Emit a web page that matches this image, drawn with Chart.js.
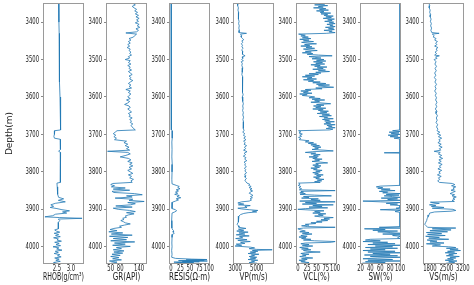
<!DOCTYPE html>
<html><head><meta charset="utf-8">
<script src="https://cdn.jsdelivr.net/npm/chart.js@4"></script>
<style>
html,body{margin:0;padding:0;background:#fff;width:474px;height:285px;overflow:hidden;position:relative}
canvas{position:absolute;top:0}
</style></head><body>
<script>
// ---------- data (depth in m) ----------
const depthTicks = [3400,3500,3600,3700,3800,3900,4000];

const rhobDepth = [3350,3370,3400,3430,3460,3500,3530,3560,3600,3630,
3660,3688,3690,3695,3700,3705,3710,3713,3725,3740,
3745,3748,3770,3800,3828,3830,3840,3850,3860,3868,
3872,3876,3880,3884,3888,3892,3895,3898,3901,3904,
3907,3910,3913,3917,3920,3922,3924,3926,3930,3935,
3945,3952,3955,3958,3961,3964,3967,3970,3973,3976,
3979,3982,3985,3988,3991,3994,3997,4000,4003,4006,
4009,4012,4015,4018,4021,4024,4027,4030,4033,4036,
4039,4042,4046];
const rhobValue = [2.56,2.57,2.57,2.58,2.58,2.59,2.59,2.60,2.61,2.62,
2.63,2.64,2.42,2.40,2.42,2.39,2.41,2.62,2.63,2.62,
2.56,2.63,2.63,2.62,2.62,2.50,2.51,2.53,2.52,2.56,
2.74,2.55,2.80,2.44,2.28,2.38,2.26,2.50,2.68,2.95,
2.70,2.85,2.45,2.35,2.07,2.60,3.40,2.55,2.60,2.55,
2.56,2.54,2.42,2.48,2.60,2.40,2.56,2.45,2.62,2.38,
2.55,2.50,2.66,2.42,2.58,2.47,2.63,2.36,2.57,2.49,
2.68,2.44,2.55,2.40,2.60,2.52,2.65,2.42,2.58,2.46,
2.62,2.38,2.55];

const grDepth = [3350,3354,3358,3362,3366,3370,3374,3378,3382,3386,
3390,3394,3398,3402,3406,3410,3414,3418,3422,3426,
3429,3432,3436,3440,3444,3448,3452,3456,3460,3464,
3468,3472,3476,3480,3484,3488,3492,3496,3500,3503,
3508,3512,3516,3520,3524,3528,3532,3536,3540,3544,
3548,3552,3556,3560,3564,3568,3572,3576,3580,3584,
3588,3592,3596,3600,3604,3608,3612,3616,3620,3624,
3628,3632,3636,3640,3644,3648,3652,3656,3660,3664,
3668,3672,3676,3680,3684,3688,3690,3694,3698,3702,
3706,3710,3714,3718,3722,3726,3730,3734,3738,3742,
3745,3748,3752,3756,3760,3764,3768,3772,3776,3780,
3784,3788,3792,3796,3800,3804,3808,3812,3816,3820,
3824,3828,3831,3834,3837,3840,3843,3846,3849,3852,
3855,3858,3861,3864,3867,3870,3873,3876,3879,3882,
3885,3888,3891,3894,3897,3900,3903,3906,3909,3912,
3915,3918,3921,3924,3927,3930,3933,3936,3939,3942,
3945,3948,3951,3954,3957,3960,3963,3966,3969,3972,
3975,3978,3981,3984,3987,3990,3993,3996,3999,4002,
4005,4008,4011,4014,4017,4020,4023,4026,4029,4032,
4035,4038,4041,4044,4046];
const grValue = [120,128,118,124,132,126,135,128,138,130,
140,132,138,128,140,134,142,130,138,132,
98,132,126,122,108,114,106,112,104,110,
102,112,108,114,110,116,106,110,96,112,
106,114,104,112,108,116,106,112,118,108,
114,110,120,112,106,114,108,116,98,112,
106,114,108,104,112,100,110,104,94,108,
112,104,110,116,106,112,108,118,110,116,
112,120,114,118,122,128,70,64,58,66,
60,68,62,100,92,104,96,108,100,110,
40,104,112,98,80,106,114,104,118,110,
120,108,116,104,112,120,106,116,110,122,
114,118,56,50,62,52,96,58,110,54,
60,125,150,100,118,64,120,108,156,104,
128,112,66,118,58,74,110,128,100,124,
106,96,100,88,92,82,90,96,112,94,
78,84,60,48,70,44,88,52,118,46,
104,58,100,50,126,62,96,56,112,68,
84,58,92,60,88,54,80,50,76,56,
84,46,70,52,62];

const resDepth = [3350,3400,3450,3500,3550,3600,3650,3688,3690,3700,
3710,3720,3740,3760,3780,3800,3820,3832,3836,3839,
3842,3845,3848,3851,3854,3857,3860,3863,3866,3869,
3872,3875,3878,3881,3890,3898,3901,3904,3907,3910,
3930,3950,3955,3958,3961,3964,3967,3975,3990,4000,
4010,4020,4028,4031,4033,4034,4035,4036,4037,4038,
4039,4040,4041,4042,4043,4044,4045,4046];
const resValue = [0.5,0.8,1.0,1.0,1.2,1.2,1.5,1.5,3.5,3.0,
4.0,2.5,3.0,2.5,3.5,3.0,2.5,3.0,14,22,
18,24,14,20,12,18,10,22,16,26,
14,20,12,4,3,3,12,15,10,3,
2,2.5,5,8,6,9,4,3,2.5,3,
2,3,2,12,55,95,40,88,20,96,
30,75,8,60,15,40,5,3];

const vpDepth = [3350,3356,3362,3368,3374,3380,3386,3392,3398,3404,
3410,3416,3422,3428,3430,3432,3436,3440,3444,3447,
3450,3454,3458,3462,3466,3470,3474,3478,3482,3486,
3490,3493,3497,3500,3503,3506,3510,3516,3522,3528,
3534,3540,3546,3552,3558,3564,3570,3576,3582,3588,
3594,3600,3606,3612,3618,3624,3630,3636,3642,3648,
3654,3660,3666,3672,3678,3684,3690,3694,3698,3702,
3706,3710,3714,3718,3722,3726,3730,3734,3738,3742,
3746,3750,3754,3758,3762,3766,3770,3774,3778,3782,
3786,3790,3794,3798,3802,3806,3810,3814,3818,3822,
3826,3830,3833,3836,3839,3842,3845,3848,3851,3854,
3857,3860,3863,3866,3869,3872,3875,3878,3880,3883,
3886,3888,3890,3892,3895,3897,3899,3901,3903,3905,
3907,3909,3911,3914,3918,3922,3928,3934,3940,3944,
3948,3951,3953,3956,3958,3961,3963,3966,3968,3971,
3973,3976,3978,3981,3983,3986,3988,3991,3993,3996,
3998,4001,4003,4005,4007,4008,4010,4012,4014,4016,
4018,4020,4022,4024,4026,4028,4030,4032,4034,4036,
4038,4040,4042,4044,4046];
const vpValue = [3250,3230,3300,3260,3320,3280,3340,3300,3360,3320,
3380,3340,3390,3360,4050,3500,3600,3560,3680,3800,
3620,3700,3580,3680,3620,3740,3600,3700,3640,3720,
3920,3640,3700,3600,3760,3560,3660,3620,3700,3640,
3680,3620,3700,3650,3720,3660,3700,3640,3720,3680,
3740,3660,3720,3680,3760,3700,3740,3690,3760,3710,
3780,3720,3770,3730,3800,3750,3820,3700,3900,3760,
3960,3800,4000,3780,3940,3820,4060,3860,3980,3780,
4100,3840,3960,3760,4000,3880,4080,3820,3960,3880,
4040,3860,3980,3900,4060,3880,3980,3920,4040,3900,
3980,4100,4350,4250,4480,4300,4560,4380,4620,4400,
4300,4500,4650,4420,4600,4380,4520,4300,3600,3250,
3800,3300,4400,3900,4100,3250,3600,4300,5100,4600,
5000,4200,3800,3500,3350,3300,3280,3320,3180,3300,
3350,4000,3300,3800,3150,4200,3350,3900,3100,4300,
3400,3700,3050,4100,3250,4400,3500,3900,3100,3600,
3000,4400,4800,4300,5000,6430,4600,5100,4400,4900,
4200,5200,4500,4800,4300,5000,4400,4900,4200,5100,
4500,4800,4300,5000,4600];

const vclDepth = [3350,3352,3354,3356,3358,3360,3362,3364,3366,3368,
3370,3372,3374,3376,3378,3380,3382,3384,3386,3388,
3390,3392,3394,3396,3398,3400,3402,3404,3406,3408,
3410,3412,3414,3416,3418,3420,3422,3424,3426,3428,
3430,3432,3435,3437,
3440,3442,3444,3446,3448,3450,3452,3454,3456,3458,
3460,3462,3464,3466,3468,3470,3472,3474,3476,3478,
3480,3482,3484,3486,3488,3490,3492,3494,3496,3498,
3500,3502,3504,3506,3508,3510,3512,3514,3516,3518,
3520,3522,3524,3526,3528,3530,3532,3534,3536,3538,
3540,3542,3544,3546,3548,3550,3552,3554,3556,3558,
3560,3562,3564,3566,3568,3570,3572,3574,3576,3578,
3580,3582,3584,3586,3588,3590,3592,3594,3596,3598,
3600,3602,3604,3606,3608,3610,3612,3614,3616,3618,
3620,3622,3624,3626,3628,3630,3632,3634,3636,3638,
3640,3642,3644,3646,3648,3650,3652,3654,3656,3658,
3660,3662,3664,3666,3668,3670,3672,3674,3676,3678,
3680,3682,3684,3686,3688,
3690,3693,3696,3699,3702,3705,3708,3711,3714,3717,
3720,3722,3724,3726,3728,3730,3732,3734,3736,3738,
3740,3742,3744,3746,3748,3750,3752,3754,3756,3758,
3760,3762,3764,3766,3768,3770,3772,3774,3776,3778,
3780,3782,3784,3786,3788,3790,3792,3794,3796,3798,
3800,3802,3804,3806,3808,3810,3812,3814,3816,3818,
3820,3822,3824,3826,3828,
3830,3833,3836,3839,3842,3845,3848,
3850,3852,3854,3856,3858,3860,3862,3864,3866,3868,
3870,3872,3874,3876,3878,3880,3882,3884,3886,3888,
3890,3892,3894,3896,3898,3900,3902,3904,3906,3908,
3910,3912,3914,3916,3918,3920,3922,3924,3926,3928,
3930,3932,3934,3936,3938,3940,3942,3944,3946,3948,
3950,3952,3955,3958,
3960,3962,3964,3966,3968,3970,3972,3974,3976,3978,
3980,3982,3984,3986,3988,3990,3992,3994,3996,3998,
4000,4002,4004,4006,4008,4010,4012,4014,4016,4018,
4020,4022,4024,4026,4028,4030,4032,4034,4036,4038,
4040,4042,4044,4046];
const vclValue = [50,72,45,80,55,68,42,75,58,82,
50,70,60,88,62,80,70,95,75,90,
68,98,80,92,72,96,84,100,78,94,
86,100,74,96,82,98,70,92,84,100,
76,2,20,8,
28,12,35,5,30,15,42,10,25,50,
18,32,8,38,22,45,15,30,52,20,
36,12,40,25,55,92,30,45,62,38,
70,50,75,42,66,48,72,35,60,45,
78,52,68,40,74,55,85,48,62,30,
55,20,45,12,38,25,50,15,42,28,
60,40,75,50,85,55,70,96,48,65,
20,35,8,28,15,38,5,25,12,32,
45,30,60,38,72,45,58,35,65,88,
50,70,42,62,48,75,40,68,55,82,
60,78,52,85,65,90,58,80,70,95,
66,85,72,98,75,88,70,100,78,92,
82,100,76,94,85,
2,8,3,12,5,10,2,8,4,30,
20,42,28,50,35,58,40,62,45,55,
38,70,95,40,20,48,35,60,42,55,
30,52,40,65,45,58,38,62,80,48,
55,40,62,45,58,35,52,42,65,48,
60,40,55,45,68,50,62,42,58,48,
70,52,64,45,60,
2,6,1,8,3,10,4,
100,8,15,5,20,6,45,90,15,30,
10,55,35,60,5,100,20,50,12,95,
40,65,30,80,20,0,35,70,45,60,
40,75,55,68,45,60,95,70,85,62,
80,50,65,35,48,20,30,10,25,100,
15,0,8,20,
5,30,12,38,18,8,25,3,22,10,
35,15,45,100,90,20,8,30,12,40,
18,5,28,10,35,15,25,60,20,8,
30,12,22,5,18,40,10,25,3,20,
8,30,12,20];

const swDepth = [3350,3688,3690,3692,3694,3696,3698,3700,3702,3704,
3706,3708,3710,3712,3748,3749,3750,3836,3838,3840,
3842,3844,3846,3848,3850,3852,3854,3856,3858,3860,
3862,3864,3866,3868,3870,3872,3874,3876,3878,3880,
3882,3884,3886,3888,3890,3895,3897,3899,3901,3903,
3906,3908,3946,3948,3950,3952,3954,3956,3958,3960,
3962,3964,3966,3968,3970,3972,3976,3978,3980,3982,
3984,3986,3988,3990,3992,3994,3996,3998,4000,4002,
4004,4006,4008,4010,4012,4014,4016,4018,4020,4022,
4024,4026,4028,4030,4032,4034,4036,4038,4040,4042,
4044,4046];
const swValue = [100,100,85,100,78,98,82,100,76,96,
80,100,88,100,100,68,100,100,60,52,
65,55,80,62,90,58,75,65,100,72,
98,68,85,100,62,95,75,100,25,60,
100,72,95,80,100,100,92,100,60,100,
90,100,100,58,100,28,70,45,95,55,
80,100,65,100,85,100,95,100,40,30,
60,25,75,45,90,35,100,50,85,30,
95,40,70,25,90,35,100,45,80,28,
95,40,100,55,25,85,35,100,30,70,
24,60];

const vsDepth = [3350,3356,3362,3368,3374,3380,3386,3392,3398,3404,
3410,3416,3422,3428,3430,3432,3436,3440,3444,3448,
3452,3456,3460,3464,3468,3472,3476,3480,3484,3488,
3490,3493,3497,3500,3506,3512,3518,3524,3530,3536,
3542,3548,3554,3560,3566,3572,3578,3584,3590,3596,
3602,3608,3614,3620,3626,3632,3638,3644,3650,3656,
3662,3668,3674,3680,3686,3690,3694,3698,3702,3706,
3710,3714,3718,3722,3726,3730,3734,3738,3742,3745,
3748,3752,3756,3760,3764,3768,3772,3776,3780,3784,
3788,3792,3796,3800,3804,3808,3812,3816,3820,3824,
3828,3831,3834,3837,3840,3843,3846,3849,3852,3855,
3858,3861,3864,3867,3870,3873,3876,3879,3881,3884,
3886,3888,3890,3892,3895,3897,3900,3903,3905,3907,
3910,3915,3920,3925,3930,3935,3940,3944,3948,3950,
3952,3955,3957,3960,3962,3965,3967,3970,3972,3975,
3977,3980,3982,3985,3987,3990,3992,3995,3998,4000,
4002,4004,4006,4008,4010,4012,4014,4016,4018,4020,
4022,4024,4026,4028,4030,4032,4034,4036,4038,4040,
4042,4044,4046];
const vsValue = [1760,1790,1770,1810,1790,1830,1810,1850,1820,1860,
1830,1870,1840,1880,2190,1900,1980,1940,2060,2000,
2120,2040,2100,2000,2140,2060,2110,2020,2080,2000,
2200,2040,2100,1980,2060,2010,2080,2020,2070,2000,
2050,1990,2060,2010,2080,2020,2060,2000,2070,2030,
2080,2040,2100,2050,2090,2030,2100,2060,2120,2070,
2110,2060,2130,2080,2140,2100,2220,2120,2260,2160,
2300,2180,2240,2140,2280,2180,2320,2200,2260,1980,
2240,2160,2300,2200,2340,2180,2280,2160,2320,2200,
2260,2140,2300,2180,2240,2120,2280,2160,2220,2130,
2200,2760,2860,2720,2900,2780,2840,2700,2880,2760,
2660,2850,2740,2920,2780,2860,2740,2840,1820,2200,
1950,1780,2050,1860,2400,1900,2780,2900,2700,2000,
1790,1760,1720,1680,1660,1620,1580,1640,1700,2900,
1900,2700,1800,2550,1650,2300,1700,2450,1620,2200,
1750,2600,1680,2100,1800,2400,1650,2250,1900,2600,
2900,2500,3000,2650,3100,2550,2850,2450,2950,2600,
2800,2500,3050,2650,2900,2550,2800,2450,2950,2600,
2850,2500,2700];

const rhobTicks = [2.5, 3.0];
const grTicks = [50, 80, 140];
const resTicks = [0, 25, 50, 75, 100];
const vpTicks = [3000, 5000];
const vclTicks = [0, 25, 50, 75, 100];
const swTicks = [20, 40, 60, 80, 100];
const vsTicks = [1800, 2500, 3200];

const trackLabels = ['RHOB(g/cm\u00B3)','GR(API)','RESIS(\u03A9\u00B7m)','VP(m/s)','VCL(%)','SW(%)','VS(m/s)'];

// ---------- layout / drawing ----------
const tracks = [
  {d:rhobDepth, v:rhobValue, t:rhobTicks, min:2.0, max:3.47, dec:1},
  {d:grDepth, v:grValue, t:grTicks, min:35, max:165, dec:0},
  {d:resDepth, v:resValue, t:resTicks, min:-5, max:103, dec:0},
  {d:vpDepth, v:vpValue, t:vpTicks, min:2800, max:6600, dec:0},
  {d:vclDepth, v:vclValue, t:vclTicks, min:-5, max:105, dec:0},
  {d:swDepth, v:swValue, t:swTicks, min:19, max:102, dec:0},
  {d:vsDepth, v:vsValue, t:vsTicks, min:1505, max:3250, dec:0}
];
const panelLeft = [43, 106, 169, 233, 296, 360, 423];

const FONT = 'DejaVu Sans';
const framePlugin = {id:'frame', afterDraw(c){
  const a=c.chartArea, g=c.ctx; g.save(); g.strokeStyle='#9a9a9a'; g.lineWidth=1;
  g.strokeRect(a.left+0.5, a.top+0.5, a.right-a.left-1, a.bottom-a.top-1); g.restore();
}};

// reference text glyphs are horizontally narrow: squeeze upright text along x
function squeezeText(ctx){
  const orig = ctx.fillText.bind(ctx);
  ctx.fillText = function(t, x, y, mw){
    const m = this.getTransform();
    const rotated = Math.abs(m.b) > 1e-6 || Math.abs(m.c) > 1e-6;
    if (rotated) { return (mw === undefined || mw === null) ? orig(t, x, y) : orig(t, x, y, mw); }
    const px = parseFloat((this.font.match(/([\d.]+)px/) || [0, 10])[1]);
    const sx = px < 9 ? 0.66 : 0.72;
    this.save();
    this.translate(x, y);
    this.scale(sx, 1);
    if (mw === undefined || mw === null) orig(t, 0, 0); else orig(t, 0, 0, mw/sx);
    this.restore();
  };
}

tracks.forEach((tr, i) => {
  const L = panelLeft[i], W = 41, AX = 40;
  const cw = AX + W + 22;
  const cv = document.createElement('canvas');
  cv.width = cw; cv.height = 285;
  cv.style.left = (L-AX)+'px'; cv.style.width = cw+'px'; cv.style.height = '285px';
  document.body.appendChild(cv);
  squeezeText(cv.getContext('2d'));
  new Chart(cv, {
    type:'scatter',
    data:{datasets:[{
      data: tr.d.map((dep,k)=>({x:tr.v[k], y:dep})),
      showLine:true, borderColor:'#1f77b4', borderWidth:0.8,
      pointRadius:0, tension:0, fill:false
    }]},
    options:{
      responsive:false, animation:false, devicePixelRatio:1, events:[],
      layout:{padding:{left:0, right:22, top:3, bottom:0}},
      plugins:{legend:{display:false}, tooltip:{enabled:false}},
      scales:{
        x:{type:'linear', position:'bottom', min:tr.min, max:tr.max,
          afterBuildTicks:s=>{s.ticks = tr.t.map(v=>({value:v}));},
          afterFit:s=>{s.height=21; s.paddingLeft=0; s.paddingRight=0;},
          ticks:{font:{family:FONT,size:8}, color:'#222', padding:0, maxRotation:0, minRotation:0, autoSkip:false,
            callback:v=>Number(v).toFixed(tr.dec)},
          grid:{display:false, drawTicks:false}, border:{display:false},
          title:{display:true, text:trackLabels[i], font:{family:FONT,size:10}, color:'#222', padding:{top:0,bottom:2}}
        },
        y:{type:'linear', position:'left', reverse:true, min:3349, max:4046,
          afterBuildTicks:s=>{s.ticks = depthTicks.map(v=>({value:v}));},
          afterFit:s=>{s.width=AX; s.paddingTop=0; s.paddingBottom=0;},
          ticks:{font:{family:FONT,size:8}, color:'#222', padding:2, callback:v=>String(v)},
          grid:{display:true, drawOnChartArea:false, drawTicks:true, tickLength:2, color:'#888'},
          border:{display:false},
          title:{display:i===0, text:'Depth(m)', font:{family:FONT,size:9}, color:'#222', padding:{top:1.6,bottom:0}}
        }
      }
    },
    plugins:[framePlugin]
  });
});
</script>
</body></html>
